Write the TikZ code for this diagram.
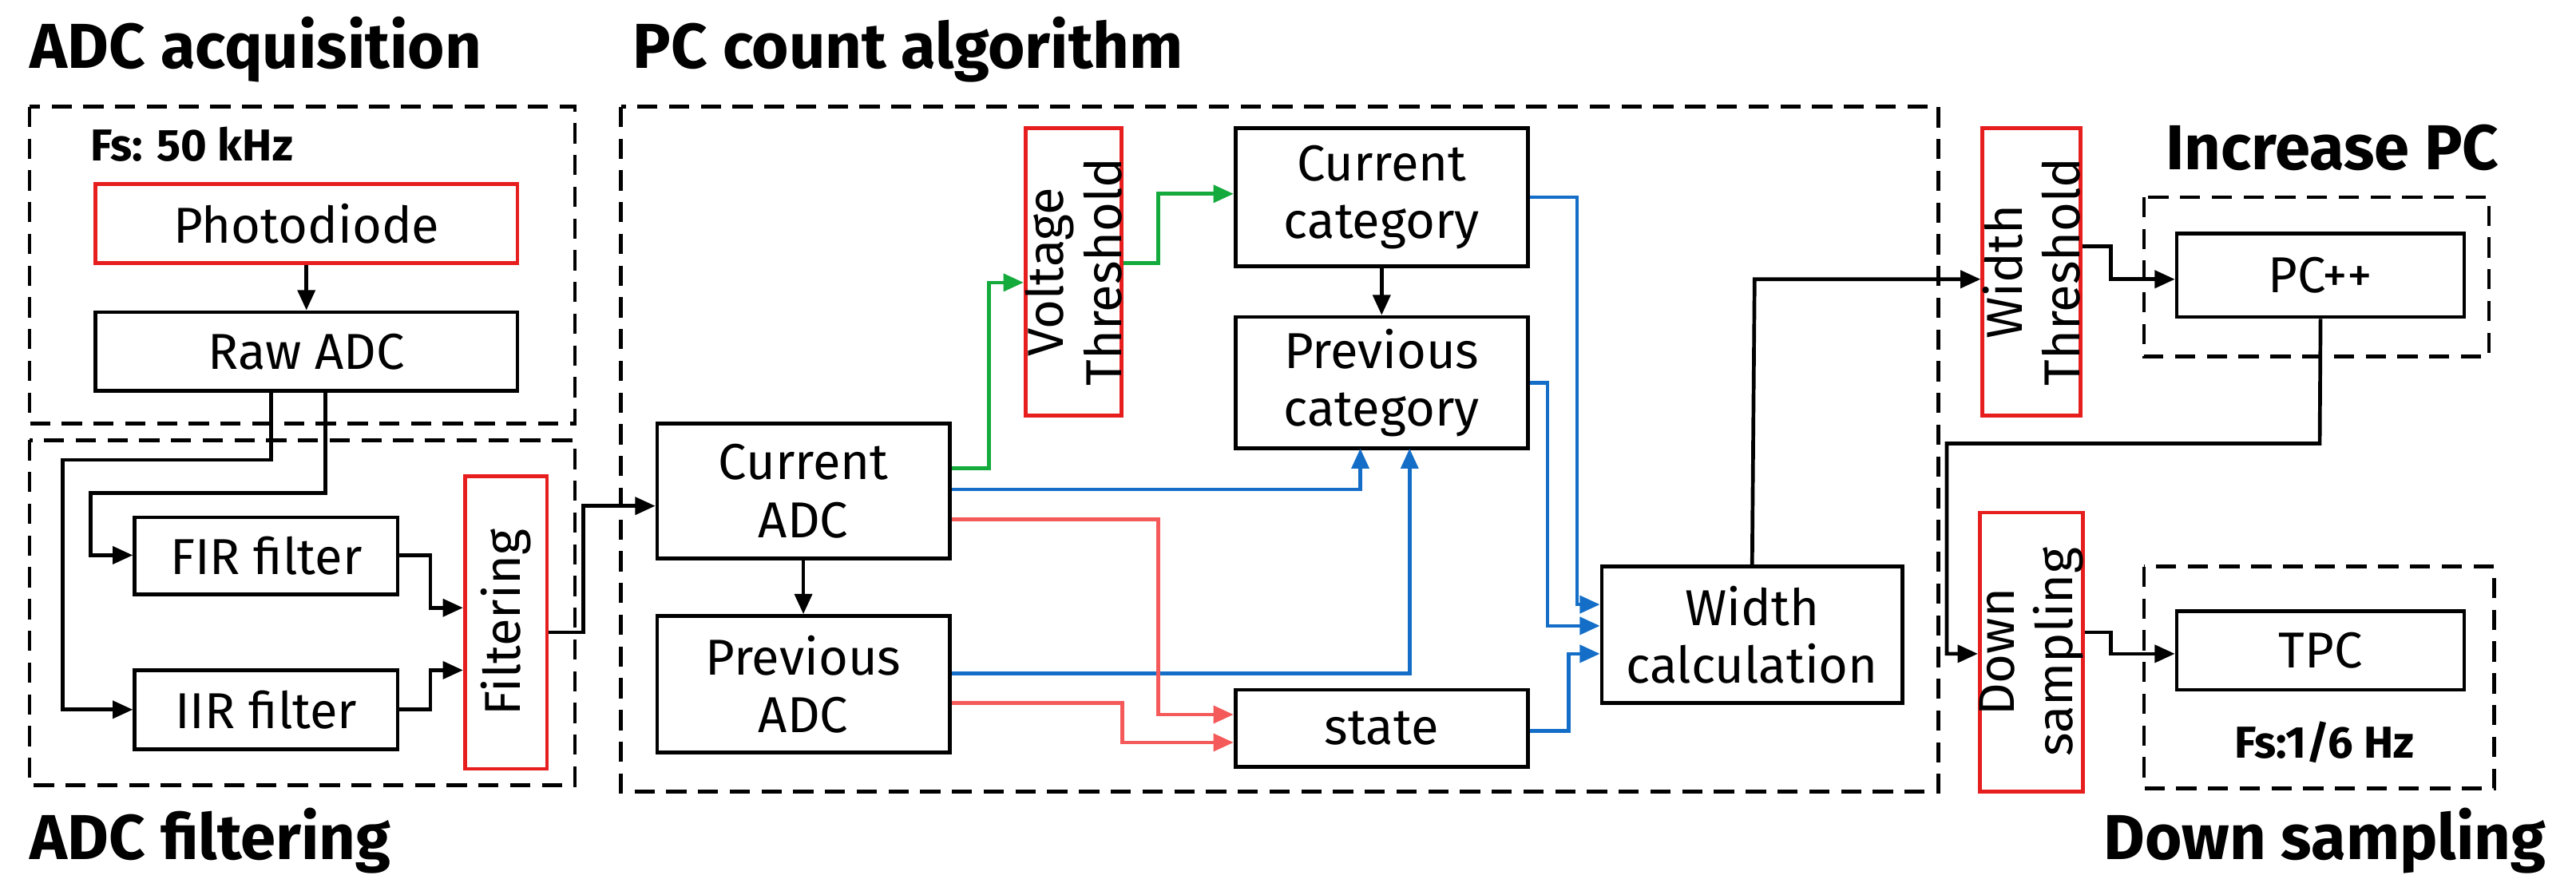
\documentclass[tikz,border=0pt]{standalone}
\usepackage{fontspec}
\setmainfont{Fira Sans}
\usetikzlibrary{arrows.meta}
\definecolor{myred}{RGB}{230,30,30}
\definecolor{lred}{RGB}{245,90,90}
\definecolor{myblue}{RGB}{20,110,200}
\definecolor{mygreen}{RGB}{20,170,60}
\begin{document}
\begin{tikzpicture}[x=0.02cm,y=-0.02cm,
 box/.style={draw,line width=1.3pt,inner sep=0pt,font=\fontsize{17.5}{20}\selectfont,align=center},
 rbox/.style={box,draw=myred},
 grp/.style={draw,line width=1.3pt,dash pattern=on 7pt off 4pt},
 ttl/.style={font=\fontsize{22}{25}\selectfont\bfseries,anchor=west,inner sep=0pt},
 fs/.style={font=\fontsize{15.5}{18}\selectfont\bfseries,anchor=west,inner sep=0pt},
 ar/.style={line width=1.3pt,-{Triangle[length=7pt,width=6pt]}},
 bl/.style={ar,myblue}, gr/.style={ar,mygreen}, rd/.style={ar,lred}]
\useasboundingbox (0,0) rectangle (1568,542);
% groups
\draw[grp] (18,65) rectangle (350,258);
\draw[grp] (18,268) rectangle (350,478);
\draw[grp] (378,65) rectangle (1180,482);
\draw[grp] (1305,120) rectangle (1515,217);
\draw[grp] (1305,345) rectangle (1518,480);
\node[ttl] (t1) at (18,30) {ADC acquisition};
\node[ttl] (t2) at (18,512) {ADC filtering};
\node[ttl] (t3) at (385,30) {PC count algorithm};
\node[ttl] (t4) at (1318,90) {Increase PC};
\node[ttl] (t5) at (1280,512) {Down sampling};
\node[fs] (f1) at (55,88) {Fs: 50 kHz};
\node[fs] (f2) at (1360,452) {Fs:1/6 Hz};
% boxes
\node[rbox,minimum width=5.14cm,minimum height=0.96cm] (pd) at (186.5,136) {Photodiode};
\node[box,minimum width=5.14cm,minimum height=0.96cm] (raw) at (186.5,214) {Raw ADC};
\node[box,minimum width=3.2cm,minimum height=0.94cm] (fir) at (162,338.5) {FIR filter};
\node[box,minimum width=3.2cm,minimum height=0.96cm] (iir) at (162,432) {IIR filter};
\node[rbox,rotate=90,minimum width=3.56cm,minimum height=1.0cm] (filt) at (308,379) {Filtering};
\node[box,minimum width=3.56cm,minimum height=1.64cm] (cadc) at (489,299) {Current\\ADC};
\node[box,minimum width=3.56cm,minimum height=1.66cm] (padc) at (489,416.5) {Previous\\ADC};
\node[rbox,rotate=90,minimum width=3.5cm,minimum height=1.06cm] (vt) at (653.5,165.5) {Voltage\\Threshold};
\node[box,minimum width=3.56cm,minimum height=1.68cm] (cc) at (841,120) {Current\\category};
\node[box,minimum width=3.56cm,minimum height=1.6cm] (pc) at (841,233) {Previous\\category};
\node[box,minimum width=3.56cm,minimum height=0.94cm] (st) at (841,443.5) {state};
\node[box,minimum width=3.66cm,minimum height=1.66cm] (wc) at (1066.5,386.5) {Width\\calculation};
\node[rbox,rotate=90,minimum width=3.5cm,minimum height=1.06cm] (wt) at (1236.5,165.5) {Width\\Threshold};
\node[rbox,rotate=90,minimum width=3.4cm,minimum height=1.06cm] (ds) at (1236.5,397) {Down\\sampling};
\node[box,minimum width=3.5cm,minimum height=1.02cm] (pcpp) at (1412.5,167.5) {PC++};
\node[box,minimum width=3.5cm,minimum height=0.96cm] (tpc) at (1412.5,396) {TPC};
% connectors
\draw[ar] (pd) -- (raw);
\draw[ar] (raw.south -| 165,0) -- (165,280) -- (38,280) -- (38,432) -- (iir.west);
\draw[ar] (raw.south -| 198,0) -- (198,300) -- (55,300) -- (55,338) -- (fir.west |- 0,338);
\draw[ar] (fir.east |- 0,338) -- (262,338) -- (262,370) -- (filt.north |- 0,370);
\draw[ar] (iir.east) -- (262,432) -- (262,408) -- (filt.north |- 0,408);
\draw[ar] (filt.south |- 0,385) -- (355,385) -- (355,308) -- (cadc.west |- 0,308);
\draw[ar] (cadc) -- (padc);
\draw[gr] (cadc.east |- 0,285) -- (602,285) -- (602,172) -- (vt.north |- 0,172);
\draw[gr] (vt.south |- 0,160) -- (705,160) -- (705,118) -- (cc.west |- 0,118);
\draw[ar] (cc) -- (pc);
\draw[bl] (cadc.east |- 0,298) -- (828,298) -- (828,273);
\draw[bl] (padc.east |- 0,410) -- (858,410) -- (858,273);
\draw[rd] (cadc.east |- 0,316) -- (705,316) -- (705,435) -- (st.west |- 0,435);
\draw[rd] (padc.east |- 0,428) -- (683,428) -- (683,452) -- (st.west |- 0,452);
\draw[bl] (cc.east |- 0,120) -- (960,120) -- (960,368) -- (wc.west |- 0,368);
\draw[bl] (pc.east |- 0,233) -- (942,233) -- (942,381) -- (wc.west |- 0,381);
\draw[bl] (st.east |- 0,445) -- (955,445) -- (955,398) -- (wc.west |- 0,398);
\draw[ar] (wc.north |- 0,345) -- (1068,170) -- (wt.north |- 0,170);
\draw[ar] (wt.south |- 0,150) -- (1285,150) -- (1285,170) -- (pcpp.west |- 0,170);
\draw[ar] (pcpp.south) -- (1412,270) -- (1185,270) -- (1185,398) -- (ds.north |- 0,398);
\draw[ar] (ds.south |- 0,385) -- (1285,385) -- (1285,398) -- (tpc.west |- 0,398);
\end{tikzpicture}
\end{document}
